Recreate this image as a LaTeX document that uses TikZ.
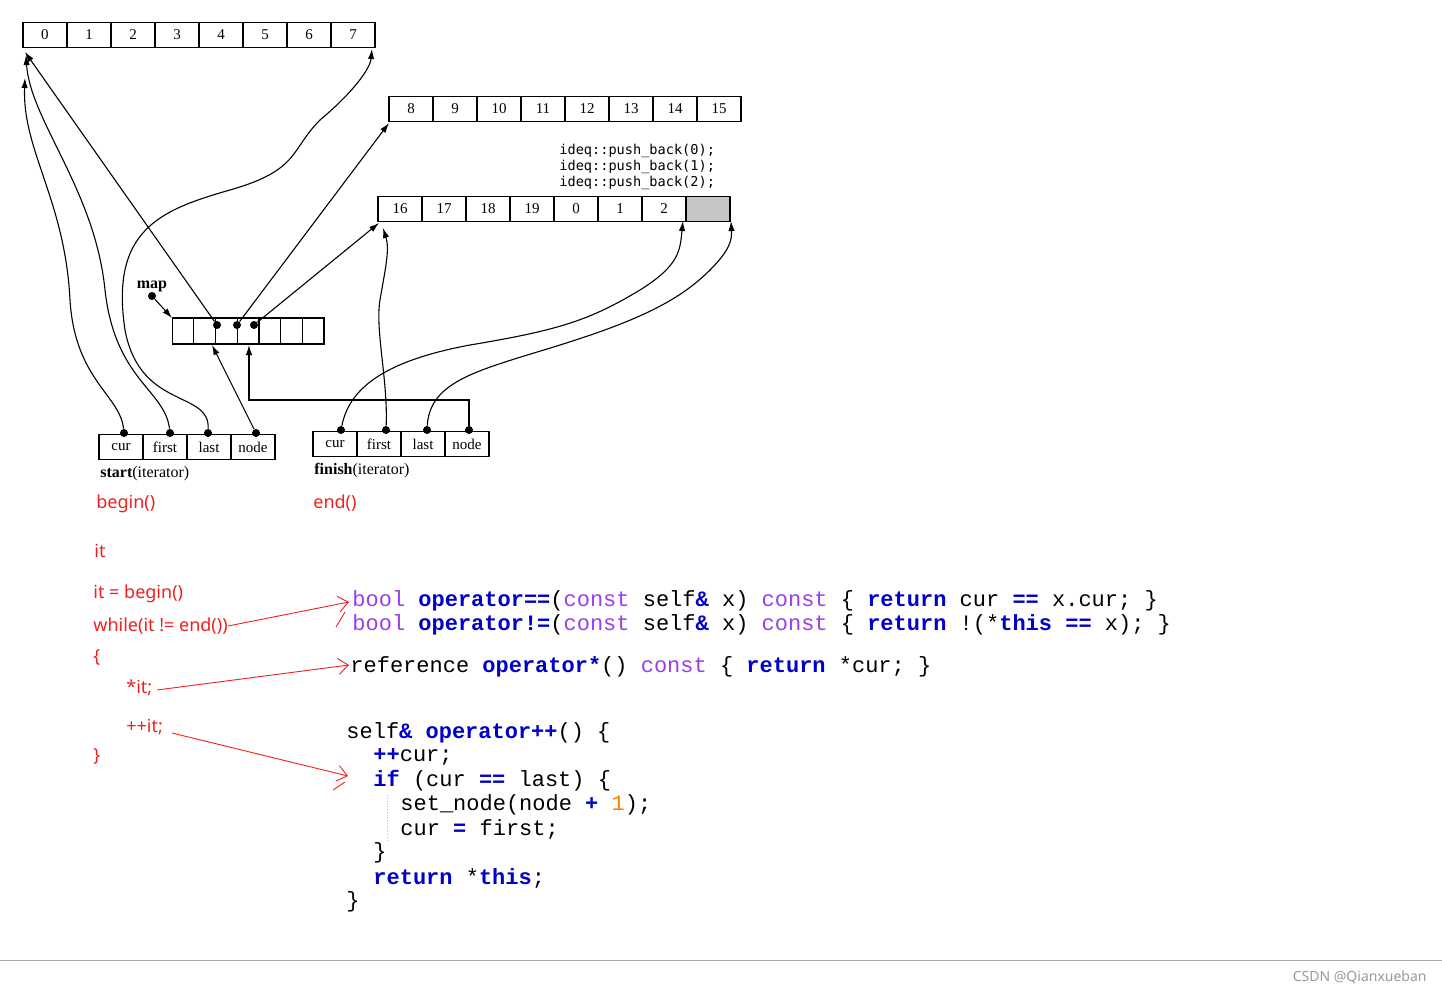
\documentclass[tikz,border=0pt]{standalone}
\usepackage{fontspec}
\setmainfont{Liberation Serif}
\newfontfamily\codef{Liberation Mono}
\newfontfamily\redf{Noto Sans}
\newfontfamily\pbf{DejaVu Sans Mono}
\usetikzlibrary{arrows.meta}
\definecolor{kwblue}{HTML}{0000C8}
\definecolor{kwpur}{HTML}{9A3DF0}
\definecolor{myred}{HTML}{F02020}
\newcommand{\kwd}[1]{\textcolor{kwblue}{\bfseries #1}}
\newcommand{\pur}[1]{\textcolor{kwpur}{#1}}
\begin{document}
\begin{tikzpicture}[x=0.5pt,y=-0.5pt,
  cell/.style={draw,line width=0.6pt,minimum width=22pt,minimum height=12.5pt,inner sep=0pt,font=\fontsize{7.5}{8}\selectfont},
  mcell/.style={draw,line width=0.6pt,minimum width=10.85pt,minimum height=13pt,inner sep=0pt},
  ptr/.style={line width=0.55pt,-{Latex[length=5pt,width=3.2pt]}},
  dot/.style={circle,fill,inner sep=0pt,minimum size=4pt},
  rtxt/.style={anchor=west,text=myred,font=\redf\fontsize{9}{10}\selectfont,inner sep=0pt},
  rarr/.style={myred,line width=0.45pt,-{Straight Barb[length=5pt,width=8pt]}},
  code/.style={anchor=west,inner sep=0pt,font=\codef\fontsize{11}{12}\selectfont}]
\useasboundingbox (0,0) rectangle (1442,995);
% blocks
\foreach \i in {0,...,7} \node[cell] (a\i) at ({45+44*\i},35) {\i};
\foreach \i [count=\k from 0] in {8,...,15} \node[cell] (b\i) at ({411+44*\k},109) {\i};
\foreach \i [count=\k from 0] in {16,17,18,19,0,1,2} \node[cell] (c\k) at ({400+44*\k},209) {\i};
\node[cell,fill=gray!45] (c7) at (708,209) {};
% push_back
\node[anchor=west,inner sep=0pt,font=\pbf\fontsize{6.8}{8}\selectfont,align=left] (pb) at (559,167) {ideq::push\_back(0);\\ideq::push\_back(1);\\ideq::push\_back(2);};
% map
\foreach \i in {0,...,6} \node[mcell] (m\i) at ({183+21.7*\i},331) {};
\node[font=\bfseries\fontsize{8}{9}\selectfont,inner sep=0pt] (maplbl) at (152,286) {map};
\node[dot] (md) at (152,296) {};
\draw[ptr] (md) -- (172,318);
\node[dot] (d1) at (217,325) {};
\node[dot] (d2) at (237,325) {};
\node[dot] (d3) at (254,325) {};
\draw[ptr] (d1) -- (25,52);
\draw[ptr] (d2) -- (389,123);
\draw[ptr] (d3) -- (379,223);
% iterators
\foreach \t [count=\k from 0] in {cur,first,last,node} \node[cell] (s\k) at ({121+44*\k},447) {\t};
\foreach \t [count=\k from 0] in {cur,first,last,node} \node[cell] (f\k) at ({335+44*\k},444) {\t};
\node[dot] (sd0) at (124,433) {};
\node[dot] (sd1) at (170,433) {};
\node[dot] (sd2) at (208,433) {};
\node[dot] (sd3) at (256,433) {};
\node[dot] (fd0) at (341,430) {};
\node[dot] (fd1) at (386,430) {};
\node[dot] (fd2) at (427,430) {};
\node[dot] (fd3) at (469,430) {};
\node[anchor=west,inner sep=0pt,font=\fontsize{8}{9}\selectfont] (sl) at (100,474) {\textbf{start}(iterator)};
\node[anchor=west,inner sep=0pt,font=\fontsize{8}{9}\selectfont] (fl) at (314,471) {\textbf{finish}(iterator)};
% start curves
\draw[ptr] (sd0) .. controls (120,395) and (75,380) .. (70,300) .. controls (65,200) and (22,150) .. (25,78);
\draw[ptr] (sd1) .. controls (165,390) and (115,380) .. (105,290) .. controls (95,190) and (30,120) .. (26,55);
\draw[ptr] (sd2) .. controls (210,390) and (140,410) .. (125,330) .. controls (110,230) and (160,210) .. (230,190) .. controls (300,170) and (290,150) .. (320,120) .. controls (350,95) and (370,70) .. (372,49);
\draw[ptr] (sd3) -- (212,345);
% finish curves
\draw[ptr] (fd0) .. controls (350,385) and (390,360) .. (470,345) .. controls (560,330) and (590,320) .. (640,290) .. controls (680,265) and (680,250) .. (683,221);
\draw[ptr] (fd1) .. controls (388,380) and (375,330) .. (380,300) .. controls (385,270) and (390,250) .. (383,228);
\draw[ptr] (fd2) .. controls (430,380) and (480,370) .. (560,345) .. controls (640,320) and (680,300) .. (710,270) .. controls (730,250) and (732,240) .. (731,221);
\draw[ptr] (fd3) |- (249,400) -- (249,345);
% red texts
\node[rtxt] (bg) at (96,504) {begin()};
\node[rtxt] (en) at (313,503) {end()};
\node[rtxt] (it) at (94,551) {it};
\node[rtxt] (r1) at (93,594) {it = begin()};
\node[rtxt] (r2) at (93,626) {while(it != end())};
\node[rtxt] (r3) at (93,657) {\{};
\node[rtxt] (r4) at (126,688) {*it;};
\node[rtxt] (r5) at (126,727) {++it;};
\node[rtxt] (r6) at (93,756) {\}};
\coordinate (t1) at (349,602);
\coordinate (t2) at (349,665);
\coordinate (t3) at (348,776);
\draw[rarr] (r2.east) -- (t1);
\draw[myred,line width=0.45pt] (345,612) -- (336,627);
\draw[rarr] (157,690) -- (t2);
\draw[rarr] (172,733) -- (t3);
\draw[myred,line width=0.45pt] (345,782) -- (333,790);
% code
\node[code] (c1) at (352,601) {\pur{bool} \kwd{operator==}(\pur{const} self\kwd{\&} x) \pur{const} \{ \kwd{return} cur \kwd{==} x.cur; \}};
\node[code] (c2) at (352,625) {\pur{bool} \kwd{operator!=}(\pur{const} self\kwd{\&} x) \pur{const} \{ \kwd{return} !(*\kwd{this} \kwd{==} x); \}};
\node[code] (c3) at (350,667) {reference \kwd{operator*}() \pur{const} \{ \kwd{return} *cur; \}};
\node[code] (c4) at (346,733) {self\kwd{\&} \kwd{operator++}() \{};
\node[code] (c5) at (373,757) {\kwd{++}cur;};
\node[code] (c6) at (373,781) {\kwd{if} (cur \kwd{==} last) \{};
\node[code] (c7) at (400,805) {set\_node(node \kwd{+} \textcolor{orange}{1});};
\node[code] (c8) at (400,829) {cur \kwd{=} first;};
\node[code] (c9) at (373,853) {\}};
\node[code] (c10) at (373,878) {\kwd{return} *\kwd{this};};
\node[code] (c11) at (346,902) {\}};
\draw[gray!50,densely dotted] (387,795) -- (387,840);
% footer
\draw[gray!70,line width=0.5pt] (0,960) -- (1442,960);
\node[anchor=east,inner sep=0pt,text=gray!80,font=\redf\fontsize{7}{8}\selectfont] (ft) at (1427,977) {CSDN @Qianxueban};
\end{tikzpicture}
\end{document}
